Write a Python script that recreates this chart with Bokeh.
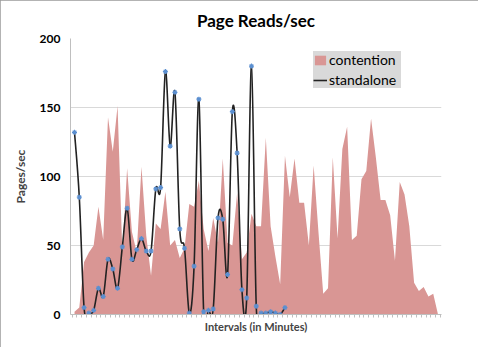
from bokeh.plotting import figure
from bokeh.models import Range1d, FixedTicker, Legend, LegendItem, CustomJSTickFormatter
from bokeh.embed import file_html
from bokeh.resources import INLINE

contention = [2, 5, 38, 45, 50, 78, 54, 143, 118, 151,
              45, 106, 60, 45, 107, 57, 28, 66, 62, 89,
              50, 54, 41, 48, 80, 78, 97, 62, 46, 70,
              52, 113, 52, 50, 88, 40, 45, 73, 64, 64,
              128, 64, 42, 22, 115, 85, 113, 81, 81, 50,
              108, 60, 15, 19, 114, 55, 120, 136, 54, 57,
              98, 104, 142, 114, 83, 83, 72, 39, 96, 87,
              64, 23, 17, 20, 13, 15, 0]
standalone = [132, 85, 5, 1, 3, 19, 13, 40, 33, 19,
              49, 77, 40, 47, 55, 46, 46, 91, 92, 176,
              122, 161, 62, 48, 1, 35, 156, 2, 3, 4,
              70, 69, 29, 147, 117, 18, 12, 180, 6, 1,
              1, 2, 1, 0, 5]
y_ticks = [0, 50, 100, 150, 200]

xc = list(range(len(contention)))
xs = list(range(len(standalone)))

# smoothed (Catmull-Rom -> cubic Bezier) rendering of the standalone series
n = len(standalone)
def pt(i):
    i = max(0, min(n - 1, i))
    return xs[i], standalone[i]
x0, y0, x1, y1, cx0, cy0, cx1, cy1 = [], [], [], [], [], [], [], []
for i in range(n - 1):
    pa, pb, pc, pd = pt(i - 1), pt(i), pt(i + 1), pt(i + 2)
    x0.append(pb[0]); y0.append(pb[1]); x1.append(pc[0]); y1.append(pc[1])
    cx0.append(pb[0] + (pc[0] - pa[0]) / 6); cy0.append(pb[1] + (pc[1] - pa[1]) / 6)
    cx1.append(pc[0] - (pd[0] - pb[0]) / 6); cy1.append(pc[1] - (pd[1] - pb[1]) / 6)

FONT = "Lato"

p = figure(width=478, height=347, output_backend="svg", toolbar_location=None,
           x_range=Range1d(-0.84, len(contention) - 1 + 0.73), y_range=Range1d(0, 200),
           min_border_left=70, min_border_right=37, min_border_top=38, min_border_bottom=33)
p.background_fill_color = "white"
p.border_fill_color = "white"
p.outline_line_color = None
p.styles = {"outline": "1px solid #9a9a9a", "outline-offset": "-1px"}

p.title.text = "Page Reads/sec"
p.title.align = "center"
p.title.text_font = FONT
p.title.text_font_size = "17px"
p.title.text_font_style = "bold"
p.title.text_color = "#000000"
p.title.standoff = 15

area = p.varea(x=xc, y1=0, y2=contention, fill_color="#D99694", fill_alpha=1.0)
p.bezier(x0=x0, y0=y0, x1=x1, y1=y1, cx0=cx0, cy0=cy0, cx1=cx1, cy1=cy1,
         line_color="#222222", line_width=1.6)
# one-point line: draws nothing itself, gives the legend its line swatch
line = p.line(x=xs[:1], y=standalone[:1], line_color="#222222", line_width=1.6)
p.scatter(x=xs, y=standalone, marker="asterisk", size=5, line_color="#5B8FD0", line_width=1.2)

# axes
p.yaxis.ticker = FixedTicker(ticks=y_ticks)
p.yaxis.major_label_text_font = FONT
p.yaxis.major_label_text_font_style = "bold"
p.yaxis.major_label_text_font_size = "12px"
p.yaxis.major_label_text_color = "#000000"
p.yaxis.major_tick_line_color = None
p.yaxis.minor_tick_line_color = None
p.yaxis.axis_line_color = "#bfbfbf"
p.yaxis.major_label_standoff = 4
p.yaxis.axis_label = "Pages/sec"
p.yaxis.axis_label_text_font = FONT
p.yaxis.axis_label_text_font_style = "bold"
p.yaxis.axis_label_text_font_size = "12px"
p.yaxis.axis_label_standoff = 9

p.xaxis.ticker = FixedTicker(ticks=[i + 0.5 for i in range(-1, len(contention))])
p.xaxis.formatter = CustomJSTickFormatter(code="return ''")
p.xaxis.major_tick_in = 0
p.xaxis.major_tick_out = 3
p.xaxis.major_tick_line_color = "#bfbfbf"
p.xaxis.minor_tick_line_color = None
p.xaxis.axis_line_color = "#bfbfbf"
p.xaxis.major_label_text_font_size = "1px"
p.xaxis.major_label_standoff = 0
p.xaxis.axis_label = "Intervals (in Minutes)"
p.xaxis.axis_label_text_font = FONT
p.xaxis.axis_label_text_font_style = "bold"
p.xaxis.axis_label_text_font_size = "11px"
p.xaxis.axis_label_standoff = 2

p.xgrid.grid_line_color = None
p.ygrid.ticker = FixedTicker(ticks=y_ticks)
p.ygrid.grid_line_color = "#d9d9d9"

legend = Legend(items=[LegendItem(label="contention", renderers=[area]),
                       LegendItem(label="standalone", renderers=[line])],
                location=(243, 226))
legend.background_fill_color = "#d9d9d9"
legend.background_fill_alpha = 1.0
legend.border_line_color = None
legend.label_text_font = FONT
legend.label_text_font_size = "14px"
legend.label_text_color = "#000000"
legend.glyph_width = 14
legend.glyph_height = 12
legend.spacing = 3
legend.padding = 4
legend.margin = 0
legend.label_standoff = 2
legend.label_width = 72
p.add_layout(legend, "center")

open("out.html", "w").write(file_html(p, INLINE))
